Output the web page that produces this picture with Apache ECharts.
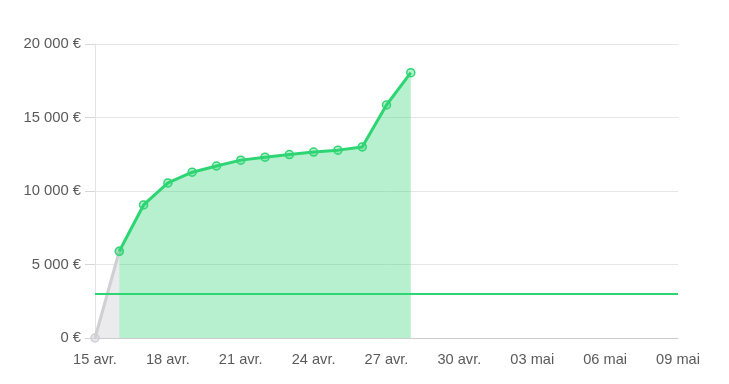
<!DOCTYPE html>
<html>
<head>
<meta charset="utf-8">
<script src="https://cdn.jsdelivr.net/npm/echarts@6/dist/echarts.min.js"></script>
<style>html,body{margin:0;padding:0;background:#fff}#c{width:729px;height:384px}</style>
</head>
<body>
<div id="c"></div>
<script>
const categories = ['15 avr.','16 avr.','17 avr.','18 avr.','19 avr.','20 avr.','21 avr.','22 avr.','23 avr.','24 avr.','25 avr.','26 avr.','27 avr.','28 avr.','29 avr.','30 avr.','01 mai','02 mai','03 mai','04 mai','05 mai','06 mai','07 mai','08 mai','09 mai'];
const greyValues = [0, 5900];
const greenValues = [null, 5900, 9050, 10550, 11280, 11700, 12100, 12300, 12480, 12650, 12780, 13000, 15850, 18050];
const targetValue = 3000;
const yTicks = [0, 5000, 10000, 15000, 20000];

const green = '#2ed573';
const font = 'Liberation Sans, Arial, sans-serif';
const chart = echarts.init(document.getElementById('c'));
chart.setOption({
  animation: false,
  grid: {left: 95, right: 51, top: 44, bottom: 46},
  xAxis: {
    type: 'category',
    data: categories,
    boundaryGap: false,
    axisLine: {lineStyle: {color: '#cccccc', width: 1}},
    axisTick: {show: false},
    axisLabel: {interval: 2, color: '#5a5a5a', fontSize: 14.6, fontFamily: font, margin: 14},
    splitLine: {show: false}
  },
  yAxis: {
    type: 'value',
    min: yTicks[0],
    max: yTicks[yTicks.length - 1],
    interval: 5000,
    axisLine: {show: true, lineStyle: {color: '#e3e3e3'}},
    axisTick: {show: true, inside: false, length: 10, lineStyle: {color: '#d6d6d6', width: 1}},
    axisLabel: {
      color: '#5a5a5a', fontSize: 14.8, fontFamily: font, margin: 14,
      formatter: v => String(v).replace(/\B(?=(\d{3})+(?!\d))/g, ' ') + ' €'
    },
    splitLine: {lineStyle: {color: '#e6e6e6'}}
  },
  series: [
    {
      type: 'line',
      data: greyValues,
      symbol: 'circle',
      symbolSize: 8,
      itemStyle: {color: 'rgba(210,210,215,0.5)', borderColor: '#cfcfd4', borderWidth: 1.5},
      lineStyle: {color: '#cfcfd4', width: 3},
      areaStyle: {color: '#ebebee', opacity: 1},
      z: 2
    },
    {
      type: 'line',
      data: greenValues,
      symbol: 'circle',
      symbolSize: 8,
      itemStyle: {color: 'rgba(46,213,115,0.35)', borderColor: green, borderWidth: 1.5},
      lineStyle: {color: green, width: 3},
      areaStyle: {color: green, opacity: 0.35},
      z: 3,
      markLine: {
        silent: true,
        symbol: 'none',
        label: {show: false},
        lineStyle: {color: green, width: 2, type: 'solid'},
        data: [{yAxis: targetValue}],
        z: 5
      }
    }
  ]
});
</script>
</body>
</html>
